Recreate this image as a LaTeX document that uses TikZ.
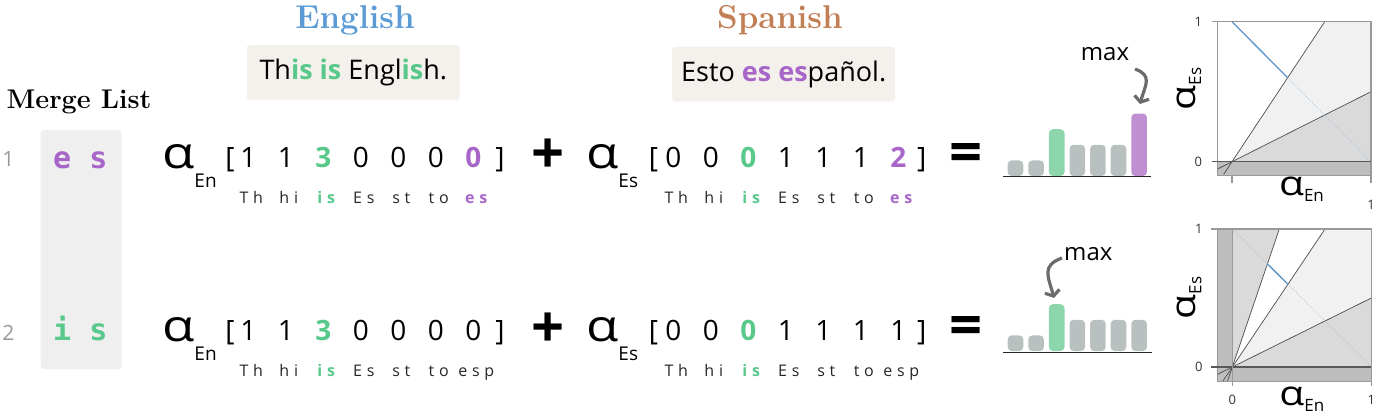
\documentclass[tikz,border=0pt]{standalone}
\usepackage{fontspec}
\newfontfamily\osans{Open Sans}
\newfontfamily\monob{DejaVu Sans Mono}
\usetikzlibrary{arrows.meta}

\definecolor{hlgreen}{HTML}{58C88B}
\definecolor{hlpurple}{HTML}{A867C8}
\definecolor{engblue}{HTML}{5B9BD5}
\definecolor{spabrown}{HTML}{C27E55}
\definecolor{sentbg}{HTML}{F4F1EC}
\definecolor{mergebg}{HTML}{EFEFEF}
\definecolor{bargray}{HTML}{B9C0C0}
\definecolor{bargreen}{HTML}{8DD5AA}
\definecolor{barpurple}{HTML}{BF8FD2}
\definecolor{plotlight}{HTML}{F1F1F1}
\definecolor{plotmid}{HTML}{DADADA}
\definecolor{plotdark}{HTML}{BEBEBE}
\definecolor{lineblue}{HTML}{5B94C8}

\newcommand\fsz[1]{\fontsize{#1}{#1}\selectfont}
\newcommand\hlgr[1]{{\bfseries\color{hlgreen}#1}}
\newcommand\hlpu[1]{{\bfseries\color{hlpurple}#1}}
% wide alpha with a lowered subscript
\newcommand\coefal[4]{\scalebox{1.2}[1]{\osans\fsz{#1}α}\raisebox{#3}{\osans\fsz{#2}#4}}

\tikzset{
  title/.style={font=\bfseries\fsz{33}, anchor=base, inner sep=0pt},
  sentbox/.style={fill=sentbg, rounded corners=3pt, font=\osans\fsz{27}, inner sep=0pt},
  rowidx/.style={font=\osans\fsz{21}, text=black!40, anchor=base, inner sep=0pt},
  mergetok/.style={font=\monob\bfseries\fsz{30}, anchor=base, inner sep=0pt},
  coef/.style={anchor=base west, inner sep=0pt},
  vnum/.style={font=\osans\fsz{28}, anchor=base, inner sep=0pt},
  vgreen/.style={vnum, font=\osans\bfseries\fsz{28}, text=hlgreen},
  vpurple/.style={vnum, font=\osans\bfseries\fsz{28}, text=hlpurple},
  tok/.style={font=\osans\fsz{16}\addfontfeature{LetterSpace=30}, anchor=base, inner sep=0pt, text=black!85},
  tgreen/.style={tok, font=\osans\bfseries\fsz{16}\addfontfeature{LetterSpace=30}, text=hlgreen},
  tpurple/.style={tok, font=\osans\bfseries\fsz{16}\addfontfeature{LetterSpace=30}, text=hlpurple},
  opsign/.style={font=\osans\bfseries\fsz{58}, inner sep=0pt},
  maxlabel/.style={font=\osans\fsz{24}, anchor=base, inner sep=0pt},
  maxarrow/.style={draw=black!58, line width=3.2pt, -{Straight Barb[length=5pt,width=15pt]}},
  axisrule/.style={draw=black!85, line width=1.5pt},
  frame/.style={draw=black!40, line width=1.2pt},
  zeroline/.style={draw=black!65, line width=1.2pt},
  cutline/.style={draw=black!70, line width=0.7pt},
  bluesolid/.style={draw=lineblue, line width=1.3pt},
  bluedot/.style={draw=lineblue!55, dotted, line width=0.9pt},
  tick/.style={font=\osans\fsz{13}, text=black!80, inner sep=0pt},
  axlabel/.style={inner sep=0pt}
}

\begin{document}
\begin{tikzpicture}[x=1pt, y=1pt]
	\useasboundingbox (0,0) rectangle (1376,-418);
	
	%%%%% titles and sentences %%%%%
	\node[title, text=engblue] (enTitle) at (355,-28.3) {English};
	\node[title, text=spabrown] (esTitle) at (780,-28.3) {Spanish};
	\node[sentbox, minimum width=213pt, minimum height=55pt] (enSent) at (353.3,-72.5) {Th\hlgr{is is} Engl\hlgr{is}h.};
	\node[sentbox, minimum width=223pt, minimum height=55pt] (esSent) at (783.7,-74.2) {Esto \hlpu{es es}pañol.};
	
	%%%%% merge list %%%%%
	\node[title, font=\bfseries\fsz{27}] (mergeTitle) at (79,-108.3) {Merge List};
	\fill[mergebg, rounded corners=3pt] (40.7,-130) rectangle (121.7,-369.3);
	\node[rowidx] (idxA) at (8.3,-166.7) {1};
	\node[rowidx] (idxB) at (8.3,-340) {2};
	\node[mergetok, text=hlpurple] (mergeA) at (80.3,-168.3) {e s};
	\node[mergetok, text=hlgreen] (mergeB) at (80.3,-340) {i s};
	
	%%%%% row 1 %%%%%
	\node[coef] (coefEnA) at (162,-168) {\coefal{44}{19}{-19pt}{En}};
	\node[vnum] (brEnLA) at (230,-167) {[};
	\foreach \v/\s [count=\i] in {1/vnum,1/vnum,3/vgreen,0/vnum,0/vnum,0/vnum,0/vpurple}
		\node[\s] (numEnA\i) at ({248.3+37.5*(\i-1)},-167) {\v};
	\node[vnum] (brEnRA) at (500,-167) {]};
	\foreach \t/\s [count=\i] in {Th/tok,hi/tok,is/tgreen,Es/tok,st/tok,to/tok,es/tpurple}
		\node[\s] (tokEnA\i) at ({251.3+37.5*(\i-1)},-203) {\t};
	\node[opsign] (plusA) at (548.3,-156.7) {+};
	\node[coef] (coefEsA) at (586,-168) {\coefal{44}{19}{-19pt}{Es}};
	\node[vnum] (brEsLA) at (653.5,-167) {[};
	\foreach \v/\s [count=\i] in {0/vnum,0/vnum,0/vgreen,1/vnum,1/vnum,1/vnum,2/vpurple}
		\node[\s] (numEsA\i) at ({673.3+37.5*(\i-1)},-167) {\v};
	\node[vnum] (brEsRA) at (921.7,-167) {]};
	\foreach \t/\s [count=\i] in {Th/tok,hi/tok,is/tgreen,Es/tok,st/tok,to/tok,es/tpurple}
		\node[\s] (tokEsA\i) at ({676.3+37.5*(\i-1)},-203) {\t};
	\node[opsign] (eqA) at (966,-157.5) {=};
	
	%%%%% row 2 %%%%%
	\node[coef] (coefEnB) at (162,-341) {\coefal{44}{19}{-19pt}{En}};
	\node[vnum] (brEnLB) at (230,-340) {[};
	\foreach \v/\s [count=\i] in {1/vnum,1/vnum,3/vgreen,0/vnum,0/vnum,0/vnum,0/vnum}
		\node[\s] (numEnB\i) at ({248.3+37.5*(\i-1)},-340) {\v};
	\node[vnum] (brEnRB) at (500,-340) {]};
	\foreach \t/\s [count=\i] in {Th/tok,hi/tok,is/tgreen,Es/tok,st/tok,to/tok,esp/tok}
		\node[\s] (tokEnB\i) at ({251.3+37.5*(\i-1)},-376) {\t};
	\node[opsign] (plusB) at (548.3,-330) {+};
	\node[coef] (coefEsB) at (586,-341) {\coefal{44}{19}{-19pt}{Es}};
	\node[vnum] (brEsLB) at (653.5,-340) {[};
	\foreach \v/\s [count=\i] in {0/vnum,0/vnum,0/vgreen,1/vnum,1/vnum,1/vnum,1/vnum}
		\node[\s] (numEsB\i) at ({673.3+37.5*(\i-1)},-340) {\v};
	\node[vnum] (brEsRB) at (921.7,-340) {]};
	\foreach \t/\s [count=\i] in {Th/tok,hi/tok,is/tgreen,Es/tok,st/tok,to/tok,esp/tok}
		\node[\s] (tokEsB\i) at ({676.3+37.5*(\i-1)},-376) {\t};
	\node[opsign] (eqB) at (966,-330.5) {=};
	
	%%%%% bar charts %%%%%
	\foreach \h/\c [count=\i] in {1/bargray,1/bargray,3/bargreen,2/bargray,2/bargray,2/bargray,4/barpurple}
		\fill[\c, rounded corners=4pt] ({1007.7+20.6*(\i-1)},-176) rectangle +(15.6,{15.6*\h});
	\draw[axisrule] (1003.3,-176.7) -- (1151,-176.7);
	\node[maxlabel] (maxA) at (1105,-60) {max};
	\coordinate (arrA) at (1135,-69);
	\coordinate (topA) at (1140,-104);
	\draw[maxarrow] (arrA) to[out=-20, in=75, looseness=1.4] (topA);
	
	\foreach \h/\c [count=\i] in {1/bargray,1/bargray,3/bargreen,2/bargray,2/bargray,2/bargray,2/bargray}
		\fill[\c, rounded corners=4pt] ({1007.7+20.6*(\i-1)},-351) rectangle +(15.6,{15.6*\h});
	\draw[axisrule] (1003.3,-352.7) -- (1151.7,-352.7);
	\node[maxlabel] (maxB) at (1088.3,-260.7) {max};
	\coordinate (arrB) at (1062,-258);
	\coordinate (topB) at (1054,-298);
	\draw[maxarrow] (arrB) to[out=200, in=105, looseness=1.4] (topB);
	
	%%%%% plot 1 %%%%%
	\begin{scope}[shift={(1232,-161.7)}, x=139pt, y=140pt]
		\fill[plotlight] (0,0) -- (0.667,1) -- (1,1) -- (1,0.5) -- cycle;
		\fill[plotmid] (0,0) -- (1,0.5) -- (1,0) -- cycle;
		\fill[plotdark] (-0.106,-0.1) rectangle (1,0);
		\draw[cutline] (-0.06,-0.09) -- (0.667,1);
		\draw[cutline] (-0.1,-0.05) -- (1,0.5);
		\draw[bluedot] (0.4,0.6) -- (1,0);
		\draw[bluesolid] (0,1) -- (0.4,0.6);
		\draw[frame] (-0.106,-0.1) rectangle (1,1);
		\draw[zeroline] (-0.146,0) -- (1,0);
		\draw[frame] (-0.146,1) -- (-0.106,1);
		\draw[frame] (0,-0.1) -- (0,-0.155) (1,-0.1) -- (1,-0.155);
		\node[tick] (pAy1) at (-0.242,1) {1};
		\node[tick] (pAy0) at (-0.242,0) {0};
		\node[tick] (pAx1) at (1,-0.31) {1};
		\node[axlabel, rotate=90] (pAyl) at (-0.31,0.52) {\coefal{34}{17}{-6pt}{Es}};
		\node[axlabel] (pAxl) at (0.5,-0.2) {\coefal{34}{17}{-6pt}{En}};
	\end{scope}
	
	%%%%% plot 2 %%%%%
	\begin{scope}[shift={(1232.3,-367)}, x=139pt, y=138pt]
		\fill[plotmid] (0,0) -- (0.338,1) -- (0,1) -- cycle;
		\fill[plotlight] (0,0) -- (0.667,1) -- (1,1) -- (1,0.5) -- cycle;
		\fill[plotmid] (0,0) -- (1,0.5) -- (1,0) -- cycle;
		\fill[plotdark] (-0.108,-0.104) rectangle (0,1);
		\fill[plotdark] (0,-0.104) rectangle (1,0);
		\draw[cutline] (-0.035,-0.104) -- (0.338,1);
		\draw[cutline] (-0.069,-0.104) -- (0.667,1);
		\draw[cutline] (-0.108,-0.054) -- (1,0.5);
		\draw[bluedot] (0,1) -- (1,0);
		\draw[bluesolid] (0.25,0.75) -- (0.4,0.6);
		\draw[frame] (-0.108,-0.104) rectangle (1,1);
		\draw[zeroline] (-0.15,0) -- (1,0);
		\draw[frame] (-0.15,1) -- (-0.108,1);
		\draw[frame] (0,1) -- (0,-0.14) (1,-0.104) -- (1,-0.14);
		\node[tick] (pBy1) at (-0.24,1) {1};
		\node[tick] (pBy0) at (-0.24,0) {0};
		\node[tick] (pBx0) at (0,-0.24) {0};
		\node[tick] (pBx1) at (1,-0.24) {1};
		\node[axlabel, rotate=90] (pByl) at (-0.31,0.5) {\coefal{34}{17}{-6pt}{Es}};
		\node[axlabel] (pBxl) at (0.5,-0.23) {\coefal{34}{17}{-6pt}{En}};
	\end{scope}
\end{tikzpicture}
\end{document}
